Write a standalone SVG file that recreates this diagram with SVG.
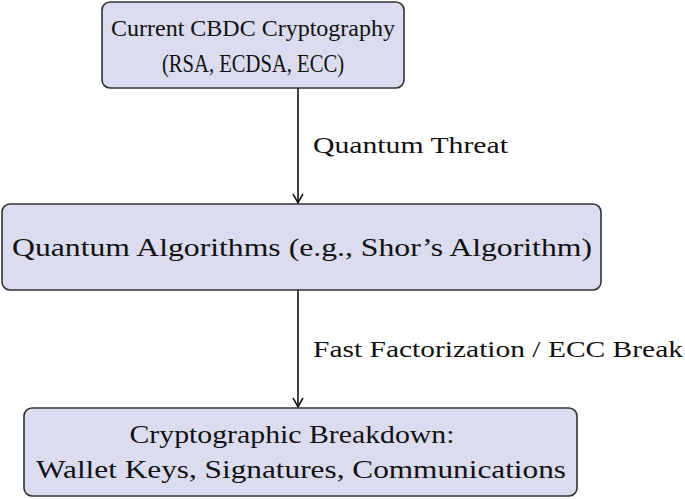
<svg xmlns="http://www.w3.org/2000/svg" width="685" height="499" viewBox="0 0 685 499">
<defs>
<style>
.box{fill:#dcdcf0;stroke:#333;stroke-width:1.6}
.t{font-family:"Liberation Serif","DejaVu Serif",serif;font-size:26px;fill:#111;text-anchor:middle}
.l{font-family:"Liberation Serif","DejaVu Serif",serif;font-size:23px;fill:#111}
.c{stroke:#111;stroke-width:1.6;fill:none}
</style>
<marker id="a" markerWidth="12" markerHeight="12" refX="10" refY="6" orient="auto" markerUnits="userSpaceOnUse">
<path d="M1,1 Q6,4 10,6 Q6,8 1,11" fill="none" stroke="#111" stroke-width="1.5"/>
</marker>
</defs>
<g id="connectors">
<line class="c" x1="298" y1="88" x2="298" y2="203" marker-end="url(#a)"/>
<line class="c" x1="298" y1="290" x2="298" y2="407" marker-end="url(#a)"/>
<text class="l" x="313" y="153" textLength="195" lengthAdjust="spacingAndGlyphs">Quantum Threat</text>
<text class="l" x="313" y="357" textLength="370" lengthAdjust="spacingAndGlyphs">Fast Factorization / ECC Break</text>
</g>
<g id="n1">
<rect class="box" x="102" y="2" width="302" height="86" rx="8"/>
<text class="t" x="253" y="36" style="font-size:24px">Current CBDC Cryptography</text>
<text class="t" x="253" y="72" textLength="182" lengthAdjust="spacingAndGlyphs">(RSA, ECDSA, ECC)</text>
</g>
<g id="n2">
<rect class="box" x="2" y="204" width="599" height="86" rx="8"/>
<text class="t" x="302" y="256" textLength="580" lengthAdjust="spacingAndGlyphs">Quantum Algorithms (e.g., Shor’s Algorithm)</text>
</g>
<g id="n3">
<rect class="box" x="24" y="408" width="553" height="88" rx="8"/>
<text class="t" x="292" y="443" textLength="325" lengthAdjust="spacingAndGlyphs">Cryptographic Breakdown:</text>
<text class="t" x="301" y="478" textLength="530" lengthAdjust="spacingAndGlyphs">Wallet Keys, Signatures, Communications</text>
</g>
</svg>
